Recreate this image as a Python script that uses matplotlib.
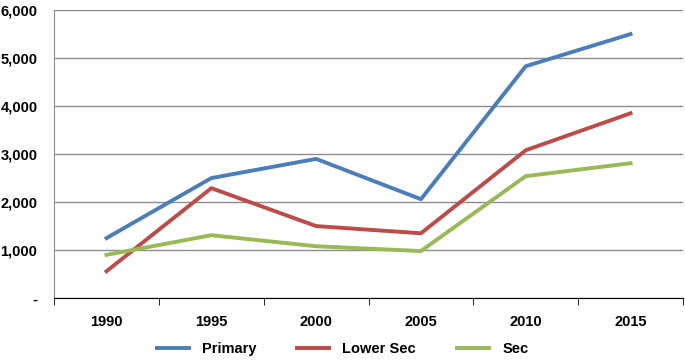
import matplotlib
matplotlib.use('Agg')
import matplotlib.pyplot as plt
import numpy as np

years = ['1990', '1995', '2000', '2005', '2010', '2015']
primary = [1250, 2500, 2900, 2060, 4830, 5500]
lower_sec = [560, 2290, 1500, 1350, 3080, 3850]
sec = [900, 1310, 1080, 980, 2540, 2810]

plt.rcParams['font.family'] = ['Liberation Sans', 'DejaVu Sans']
plt.rcParams['font.weight'] = 'bold'

fig = plt.figure(figsize=(6.85, 3.6), dpi=100)
ax = fig.add_axes([0.079, 0.172, 0.918, 0.8])

x = np.arange(len(years))
ax.plot(x, primary, color='#4a7ebb', lw=2.8, label='Primary')
ax.plot(x, lower_sec, color='#be4b48', lw=2.8, label='Lower Sec')
ax.plot(x, sec, color='#98b954', lw=2.8, label='Sec')

ax.set_xlim(-0.5, len(years) - 0.5)
ax.set_ylim(0, 6000)
yt = np.arange(0, 6001, 1000)
ax.set_yticks(yt)
ax.set_yticklabels(['-'] + ['{:,}'.format(v) for v in yt[1:]])
ax.tick_params(axis='y', length=0, pad=12, labelsize=10.5)
ax.grid(axis='y', color='#8c8c8c', lw=1)
ax.set_axisbelow(True)

ax.set_xticks(x)
ax.set_xticklabels(years)
ax.set_xticks(np.arange(-0.5, len(years), 1), minor=True)
ax.tick_params(axis='x', which='major', length=0, pad=12, labelsize=10.5)
ax.tick_params(axis='x', which='minor', length=5, direction='out', color='#000000')

for s in ['top', 'right']:
    ax.spines[s].set_visible(False)
ax.spines['left'].set_color('#8c8c8c')
ax.spines['bottom'].set_color('#000000')

fig.legend(*ax.get_legend_handles_labels(), loc='center', bbox_to_anchor=(0.5, 0.03),
           ncol=3, frameon=False, fontsize=10.5, handlelength=2.2,
           columnspacing=2.8, handletextpad=0.9, borderpad=0)

fig.savefig('out.png', dpi=100)
